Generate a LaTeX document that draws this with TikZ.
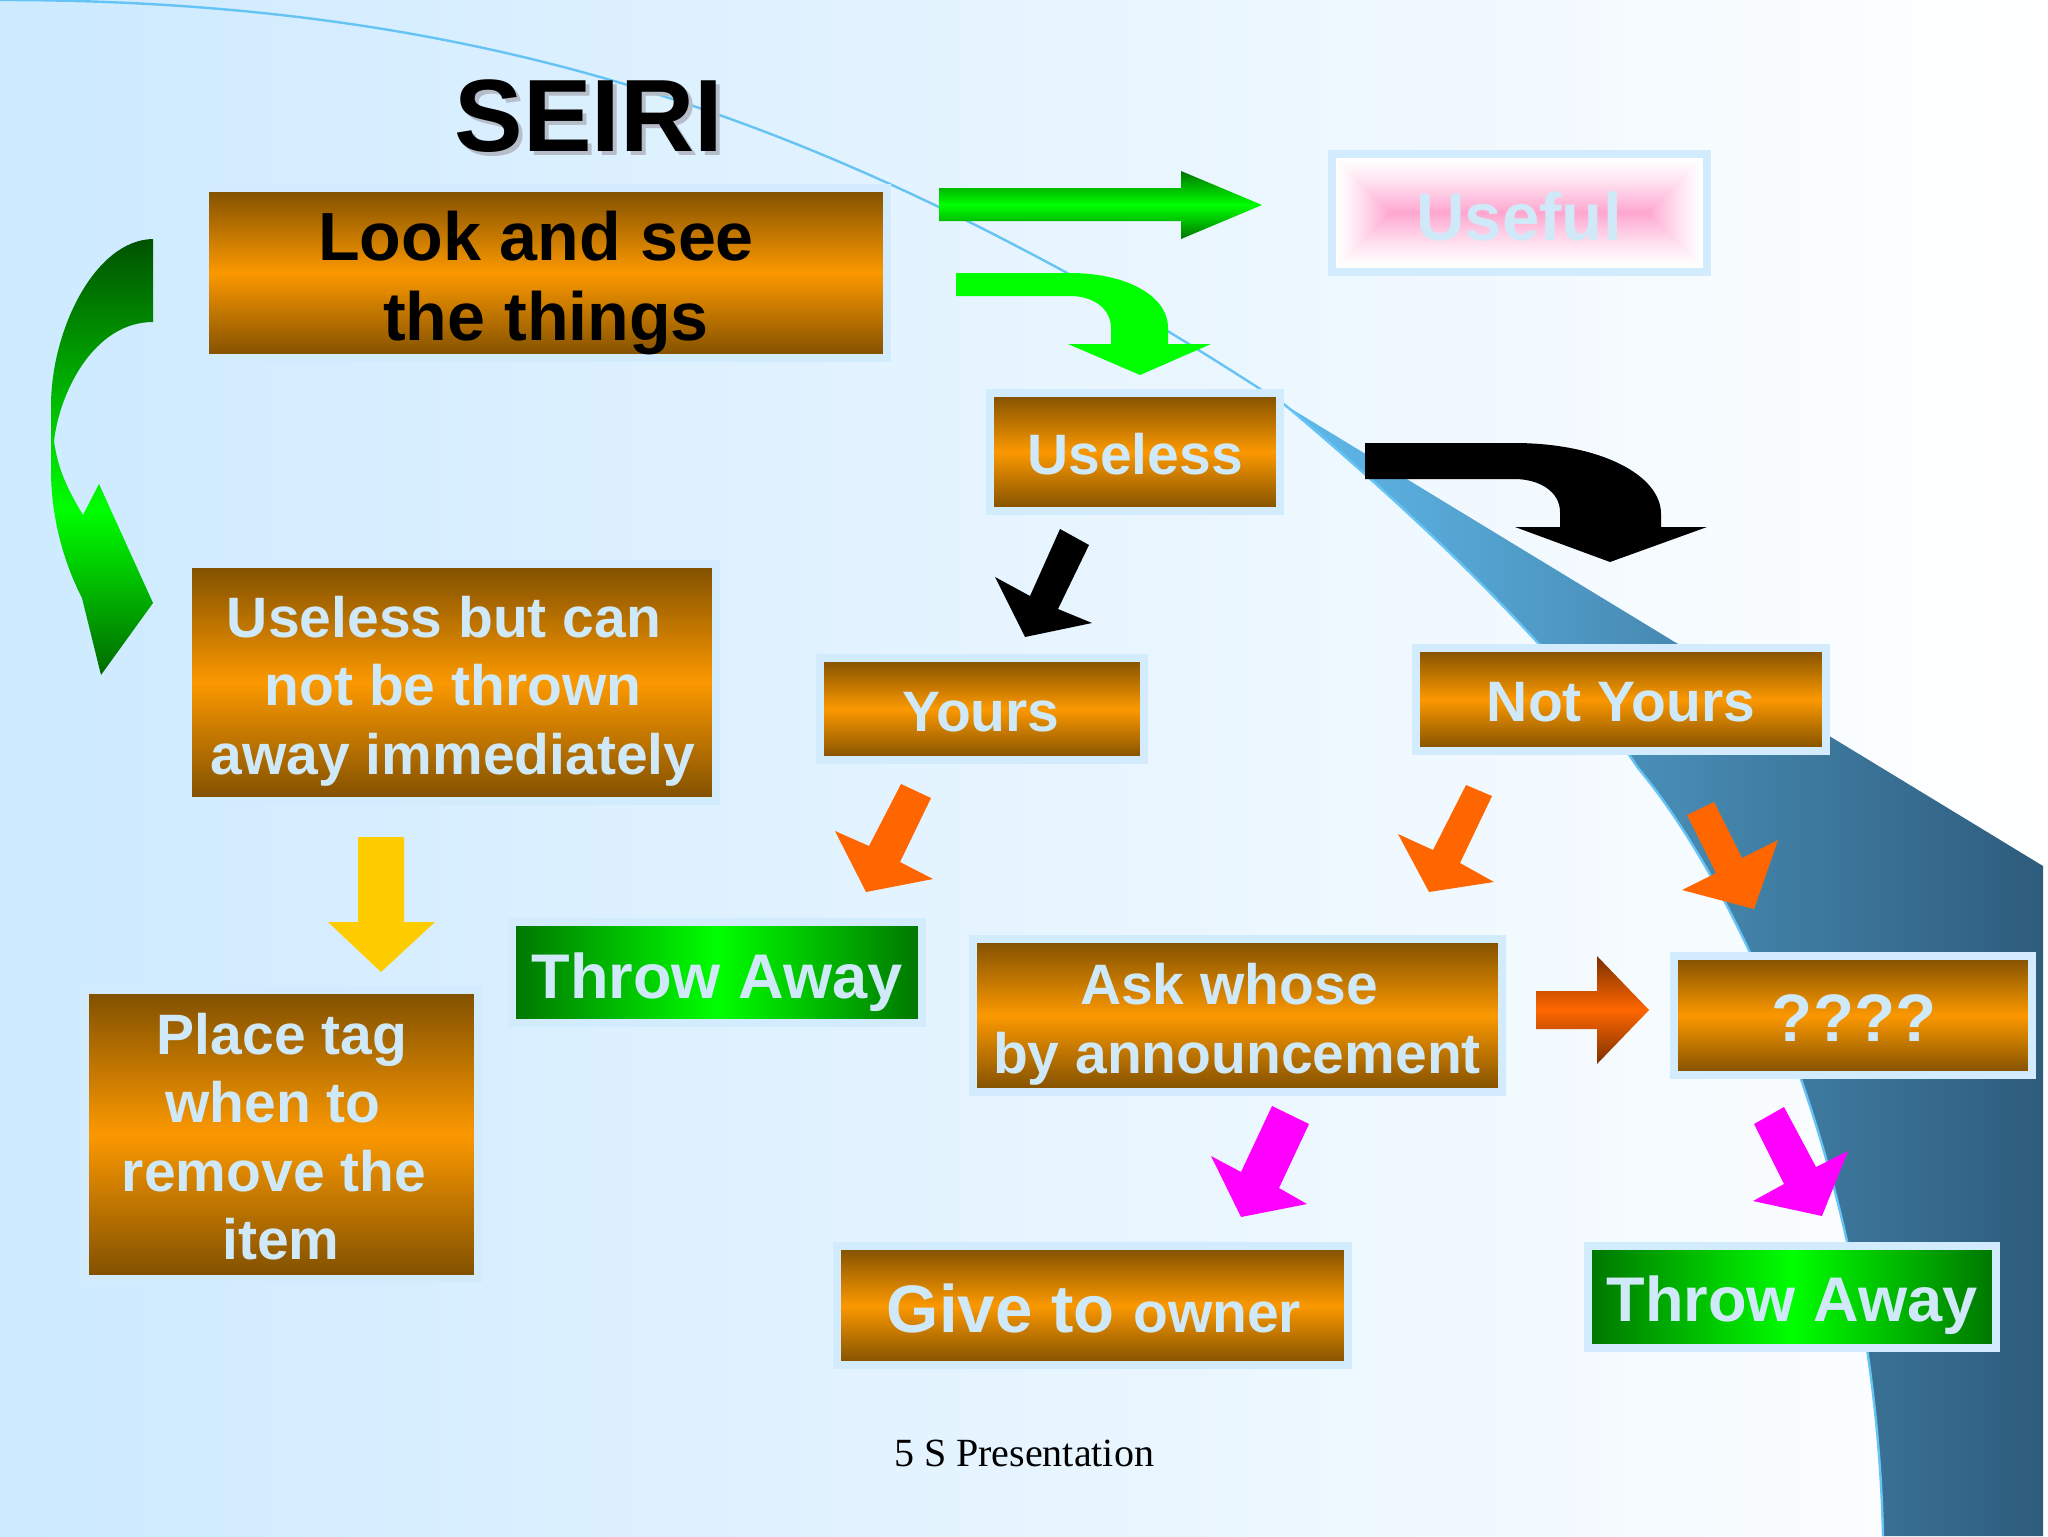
\documentclass[tikz,border=0pt]{standalone}
\usepackage{fontspec}
\setmainfont{Liberation Sans}
\newfontfamily\footfont{Liberation Serif}
\definecolor{bgl}{HTML}{CDEAFF}
\definecolor{edgeb}{HTML}{D2ECFD}
\definecolor{lbltxt}{HTML}{CFE9F8}
\definecolor{brownc}{HTML}{7F4F00}
\definecolor{orangec}{HTML}{FB9800}
\definecolor{dkgreen}{HTML}{007500}
\definecolor{ltgreen}{HTML}{00FF00}
\definecolor{arcline}{HTML}{66C4F4}
\definecolor{swa}{HTML}{60BAEC}
\definecolor{swb}{HTML}{2E5C7C}
\definecolor{pinkc}{HTML}{FFA6CF}
\definecolor{orgarrow}{HTML}{FF6600}
\definecolor{magarrow}{HTML}{FF00FF}
\definecolor{yelarrow}{HTML}{FFCC00}
\definecolor{rusta}{HTML}{7A3000}
\definecolor{titlesh}{HTML}{B5BDC8}
\pgfdeclareverticalshading{greenarc}{100bp}{
  color(0bp)=(dkgreen); color(25bp)=(dkgreen!90!black); color(44bp)=(ltgreen);
  color(75bp)=(dkgreen!70!black); color(100bp)=(dkgreen!70!black)}
\tikzset{
  brownbox/.style={rectangle,draw=edgeb,line width=4pt,inner sep=0pt,outer sep=0pt,
    top color=brownc,bottom color=brownc,middle color=orangec},
  greenbox/.style={rectangle,draw=edgeb,line width=4pt,inner sep=0pt,outer sep=0pt,
    left color=dkgreen,right color=dkgreen,middle color=ltgreen},
  pinkbox/.style={rectangle,draw=edgeb,line width=4pt,inner sep=0pt,outer sep=0pt,fill=white},
  boxtext/.style={text=lbltxt,inner sep=0pt,outer sep=0pt,align=center,anchor=north},
  hgreen/.style={top color=dkgreen,bottom color=dkgreen,middle color=ltgreen},
  hrust/.style={top color=rusta,bottom color=rusta,middle color=orgarrow},
}
\newcommand\bxn[6]{%
  \pgfmathsetmacro\bw{(#5-#3+8)/2}\pgfmathsetmacro\bh{(#6-#4+8)/2}%
  \node[#1,minimum width=\bw pt,minimum height=\bh pt] (#2) at ({(#3+#5)/2},{(#4+#6)/2}) {};}
\newcommand\lnx[2]{\makebox[0pt][c]{\rule[-.3\baselineskip]{0pt}{\baselineskip}\hspace*{#1pt}#2}}
\newcommand\pxf[2]{\fontsize{\the\dimexpr #1pt*509/1000\relax}{\the\dimexpr #2pt/2\relax}\selectfont\bfseries}
% name, cx, first baseline, size, gap, lines
\newcommand\lbl[7][]{\node[boxtext,#1,font={\pxf{#5}{#6}}] (#2) at (#3,{#4-.7*#6}) {#7};}
\begin{document}
\begin{tikzpicture}[x=.5pt,y=-.5pt]
\useasboundingbox (0,0) rectangle (2048,1536);
% background
\shade[left color=bgl,right color=white] (0,0) rectangle (2048,1536);
% swoosh
\shade[left color=swa,right color=swb] (1285,405) -- (2043,866) -- (2043,1536) -- (1883,1536)
  .. controls (1875,1180) and (1740,890) .. (1638,768)
  .. controls (1560,650) and (1410,510) .. (1285,405) -- cycle;
\draw[arcline,line width=1.2pt] (0,0) .. controls (420,0) and (720,90) .. (1024,250)
  .. controls (1120,300) and (1200,350) .. (1285,405)
  .. controls (1410,510) and (1560,650) .. (1638,768)
  .. controls (1740,890) and (1875,1180) .. (1883,1536);
% title
\node[text=titlesh,inner sep=0pt,font={\pxf{101}{110}}] (seirish) at (593,120) {SEIRI};
\node[text=black,inner sep=0pt,font={\pxf{101}{110}}] (seiri) at (589,116) {SEIRI};
% boxes
\bxn{brownbox}{look}{209}{192}{883}{354}
\bxn{pinkbox}{useful}{1336}{158}{1703}{268}
\foreach \i in {0,...,54}{
  \pgfmathsetmacro\p{pow(\i/54,1.3)*100}
  \fill[pinkc!\p!white] ({1336+\i},{158+\i}) rectangle ({1703-\i},{268-\i});
}
\bxn{brownbox}{useless}{994}{397}{1276}{507}
\bxn{brownbox}{cannot}{192}{568}{712}{797}
\bxn{brownbox}{yours}{824}{662}{1140}{756}
\bxn{brownbox}{notyours}{1420}{652}{1822}{747}
\bxn{greenbox}{throwa}{516}{926}{918}{1019}
\bxn{brownbox}{placetag}{89}{994}{474}{1275}
\bxn{brownbox}{ask}{977}{943}{1498}{1088}
\bxn{brownbox}{quest}{1678}{960}{2028}{1071}
\bxn{brownbox}{give}{841}{1250}{1344}{1361}
\bxn{greenbox}{throwb}{1592}{1250}{1992}{1344}
% texts
\lbl[text=black]{looktxt}{541}{260}{67}{80}{\lnx{-5}{Look and see}\\\lnx{5}{the things}}
\lbl{usefultxt}{1519}{240}{66}{70}{\lnx{0}{Useful}}
\lbl{uselesstxt}{1135}{474}{56}{68}{\lnx{0}{Useless}}
\lbl{cannottxt}{450}{637}{56}{68.6}{\lnx{-6}{Useless but can}\\\lnx{3}{not be thrown}\\\lnx{3}{away immediately}}
\lbl{yourstxt}{981}{731}{56}{68}{\lnx{0}{Yours}}
\lbl{notyourstxt}{1621}{721}{56}{68}{\lnx{0}{Not Yours}}
\lbl{throwatxt}{717}{998}{62}{70}{\lnx{0}{Throw Away}}
\lbl{placetagtxt}{277}{1054}{56}{68.6}{\lnx{5}{Place tag}\\\lnx{-4}{when to}\\\lnx{-3}{remove the}\\\lnx{4}{item}}
\lbl{asktxt}{1233}{1004}{56}{69}{\lnx{-4}{Ask whose}\\\lnx{4}{by announcement}}
\lbl{questtxt}{1854}{1041}{66}{70}{\lnx{0}{????}}
\lbl{givetxt}{1094}{1332}{66}{70}{\lnx{0}{Give to {\pxf{56}{70}owner}}}
\lbl{throwbtxt}{1792}{1321}{62}{70}{\lnx{0}{Throw Away}}
% footer
\node[inner sep=0pt,anchor=base,font={\fontsize{20pt}{24pt}\selectfont\footfont}] (foot) at (1024,1466) {5 S Presentation};
% block arrows
\shade[hgreen] (939,188) -- (1181,188) -- (1181,171) -- (1262,205) -- (1181,239) -- (1181,221) -- (939,221) -- cycle;
\fill[ltgreen] (956,273) -- (1070,273) .. controls (1125,273) and (1168,295) .. (1168,328) -- (1168,344) -- (1211,344)
  -- (1140,375) -- (1068,344) -- (1111,344) -- (1111,328) .. controls (1111,310) and (1095,296) .. (1070,296) -- (956,296) -- cycle;
\fill[black] (1365,443) -- (1514,443) .. controls (1600,443) and (1661,475) .. (1661,514) -- (1661,527) -- (1707,527)
  -- (1610,562) -- (1515,527) -- (1560,527) -- (1560,512) .. controls (1560,492) and (1540,479) .. (1514,479) -- (1365,479) -- cycle;
\fill[black] (1060,529) -- (1089,545) -- (1058,609) -- (1092,623) -- (1025,637) -- (995,577) -- (1030,596) -- cycle;
\fill[orgarrow] (901,784) -- (931,798) -- (900,862) -- (933,879) -- (866,892) -- (835,831) -- (869,846) -- cycle;
\fill[orgarrow] (1466,785) -- (1492,796) -- (1460,863) -- (1494,882) -- (1429,892) -- (1398,834) -- (1433,850) -- cycle;
\fill[orgarrow] (1714,802) -- (1687,815) -- (1716,873) -- (1682,890) -- (1754,909) -- (1778,840) -- (1742,858) -- cycle;
\fill[magarrow] (1272,1106) -- (1309,1124) -- (1279,1188) -- (1307,1204) -- (1241,1217) -- (1211,1156) -- (1241,1172) -- cycle;
\fill[magarrow] (1784,1107) -- (1754,1124) -- (1784,1184) -- (1753,1201) -- (1822,1216) -- (1848,1151) -- (1816,1167) -- cycle;
\fill[yelarrow] (358,837) -- (404,837) -- (404,922) -- (435,922) -- (381,972) -- (328,922) -- (358,922) -- cycle;
\shade[hrust] (1536,991) -- (1597,991) -- (1597,956) -- (1649,1010) -- (1597,1064) -- (1597,1029) -- (1536,1029) -- cycle;
\shade[shading=greenarc] (153,239) .. controls (95,240) and (51,330) .. (51,406) -- (51,470)
  .. controls (51,520) and (65,565) .. (82,598) -- (101,675) -- (153,603) -- (99,484) -- (83,515)
  .. controls (68,490) and (58,470) .. (54,441) .. controls (60,390) and (95,322) .. (153,322) -- cycle;
\end{tikzpicture}
\end{document}
